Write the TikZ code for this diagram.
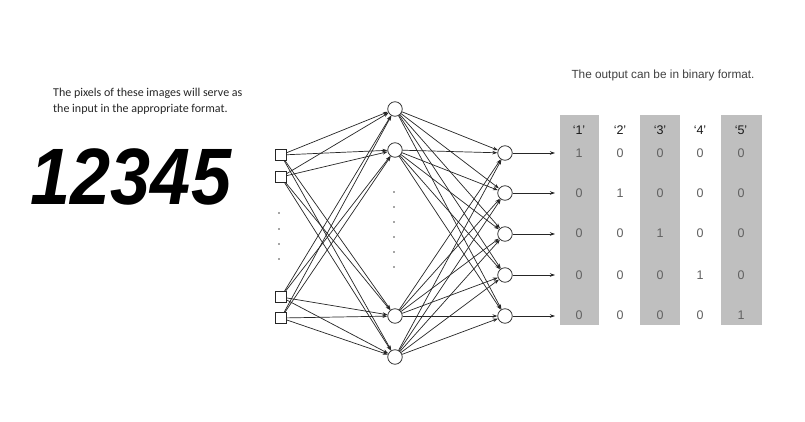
\documentclass[tikz,border=0pt]{standalone}
\usepackage{fontspec}
\setmainfont{Liberation Sans}
\newfontfamily\calfont{Carlito}
\usetikzlibrary{arrows.meta}
\begin{document}
\begin{tikzpicture}[x=1pt,y=-1pt,
  inp/.style={draw=black!85,rectangle,minimum size=10.5pt,inner sep=0pt,line width=0.75pt,fill=white},
  neuron/.style={draw=black!85,circle,minimum size=14.5pt,inner sep=0pt,line width=0.75pt,fill=white},
  conn/.style={line width=0.7pt,draw=black!85,-{Stealth[length=5pt,width=3.5pt]}},
  dotc/.style={fill=black!70,circle,inner sep=0pt,minimum size=1.8pt},
  col/.style={fill=black!25,draw=none},
  val/.style={font=\fontsize{12.5}{14}\selectfont,text=black!62},
  hdr/.style={font=\fontsize{12.5}{14}\selectfont,text=black!90}]
\useasboundingbox[fill=white] (0,0) rectangle (805,422);

% texts
\node[anchor=base west,inner sep=0pt,font=\calfont\fontsize{12}{14}\selectfont,text=black!85] (t1) at (53,97) {The pixels of these images will serve as};
\node[anchor=base west,inner sep=0pt,font=\calfont\fontsize{12}{14}\selectfont,text=black!85] (t2) at (53,113) {the input in the appropriate format.};
\node[inner sep=0pt,font=\fontsize{11.8}{14}\selectfont,text=black!75] (t3) at (663,75) {The output can be in binary format.};
\node[inner sep=0pt,xscale=0.9,font=\fontsize{80}{80}\selectfont\bfseries\itshape] (digits) at (131,177) {12345};

% grey columns
\fill[col] (560,115) rectangle (599,325);
\fill[col] (640,115) rectangle (680,325);
\fill[col] (721,115) rectangle (762,325);

% nodes
\node[inp] (I1) at (281,155) {};
\node[inp] (I2) at (281,177) {};
\node[inp] (I3) at (281,297) {};
\node[inp] (I4) at (281,318) {};
\node[neuron] (H1) at (395,109) {};
\node[neuron] (H2) at (395,150) {};
\node[neuron] (H3) at (395,316) {};
\node[neuron] (H4) at (395,357) {};
\foreach \i/\y in {1/153,2/193,3/234,4/275,5/316}{
  \node[neuron] (O\i) at (505,\y) {};
  \coordinate (E\i) at (555,\y);
}

% connections
\foreach \a in {1,2,3,4}{
  \foreach \b in {1,2,3,4}{
    \draw[conn] (I\a) -- (H\b);
  }
}
\foreach \a in {1,2,3,4}{
  \foreach \b in {1,2,3,4,5}{
    \draw[conn] (H\a) -- (O\b);
  }
}
\foreach \i in {1,...,5}{
  \draw[conn] (O\i) -- (E\i);
}

% dots
\foreach \y [count=\k] in {213,229,244,259}{
  \node[dotc] (dl\k) at (279,\y) {};
}
\foreach \y [count=\k] in {192,207,222,237,252,267}{
  \node[dotc] (dm\k) at (394,\y) {};
}

% headers
\foreach \x/\l [count=\k] in {579/1,620/2,660/3,700/4,741/5}{
  \node[hdr] (h\k) at (\x,130) {‘\l’};
}
% values
\foreach \x [count=\c] in {579,620,660,700,741}{
  \foreach \y [count=\r] in {153,193,233,275,315}{
    \ifnum\c=\r
      \node[val] (v\c\r) at (\x,\y) {1};
    \else
      \node[val] (v\c\r) at (\x,\y) {0};
    \fi
  }
}
\end{tikzpicture}
\end{document}
